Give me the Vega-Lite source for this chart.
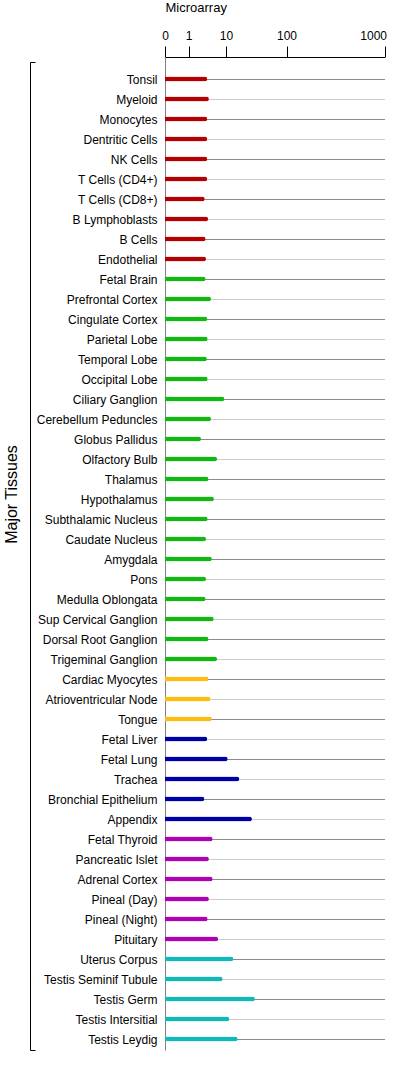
{
  "$schema": "https://vega.github.io/schema/vega-lite/v6.json",
  "width": 220,
  "height": 993,
  "autosize": "none",
  "padding": {"left": 165, "top": 57, "right": 8, "bottom": 30},
  "background": "white",
  "config": {"font": "Liberation Sans", "view": {"stroke": null}},
  "data": {"values": [
    {"tissue": "Tonsil", "group": "A", "value": 5.5},
    {"tissue": "Myeloid", "group": "A", "value": 5.9},
    {"tissue": "Monocytes", "group": "A", "value": 5.5},
    {"tissue": "Dentritic Cells", "group": "A", "value": 5.5},
    {"tissue": "NK Cells", "group": "A", "value": 5.5},
    {"tissue": "T Cells (CD4+)", "group": "A", "value": 5.5},
    {"tissue": "T Cells (CD8+)", "group": "A", "value": 4.9},
    {"tissue": "B Lymphoblasts", "group": "A", "value": 5.7},
    {"tissue": "B Cells", "group": "A", "value": 5.1},
    {"tissue": "Endothelial", "group": "A", "value": 5.2},
    {"tissue": "Fetal Brain", "group": "B", "value": 5.1},
    {"tissue": "Prefrontal Cortex", "group": "B", "value": 6.4},
    {"tissue": "Cingulate Cortex", "group": "B", "value": 5.5},
    {"tissue": "Parietal Lobe", "group": "B", "value": 5.6},
    {"tissue": "Temporal Lobe", "group": "B", "value": 5.4},
    {"tissue": "Occipital Lobe", "group": "B", "value": 5.6},
    {"tissue": "Ciliary Ganglion", "group": "B", "value": 9.6},
    {"tissue": "Cerebellum Peduncles", "group": "B", "value": 6.4},
    {"tissue": "Globus Pallidus", "group": "B", "value": 4.0},
    {"tissue": "Olfactory Bulb", "group": "B", "value": 7.85},
    {"tissue": "Thalamus", "group": "B", "value": 5.8},
    {"tissue": "Hypothalamus", "group": "B", "value": 7.1},
    {"tissue": "Subthalamic Nucleus", "group": "B", "value": 5.6},
    {"tissue": "Caudate Nucleus", "group": "B", "value": 5.2},
    {"tissue": "Amygdala", "group": "B", "value": 6.6},
    {"tissue": "Pons", "group": "B", "value": 5.2},
    {"tissue": "Medulla Oblongata", "group": "B", "value": 5.1},
    {"tissue": "Sup Cervical Ganglion", "group": "B", "value": 7.05},
    {"tissue": "Dorsal Root Ganglion", "group": "B", "value": 5.8},
    {"tissue": "Trigeminal Ganglion", "group": "B", "value": 7.85},
    {"tissue": "Cardiac Myocytes", "group": "C", "value": 5.8},
    {"tissue": "Atrioventricular Node", "group": "C", "value": 6.3},
    {"tissue": "Tongue", "group": "C", "value": 6.6},
    {"tissue": "Fetal Liver", "group": "D", "value": 5.5},
    {"tissue": "Fetal Lung", "group": "D", "value": 12.5},
    {"tissue": "Trachea", "group": "D", "value": 29.8},
    {"tissue": "Bronchial Epithelium", "group": "D", "value": 4.8},
    {"tissue": "Appendix", "group": "D", "value": 48.6},
    {"tissue": "Fetal Thyroid", "group": "E", "value": 6.8},
    {"tissue": "Pancreatic Islet", "group": "E", "value": 5.9},
    {"tissue": "Adrenal Cortex", "group": "E", "value": 6.8},
    {"tissue": "Pineal (Day)", "group": "E", "value": 5.9},
    {"tissue": "Pineal (Night)", "group": "E", "value": 5.6},
    {"tissue": "Pituitary", "group": "E", "value": 8.1},
    {"tissue": "Uterus Corpus", "group": "F", "value": 20.9},
    {"tissue": "Testis Seminif Tubule", "group": "F", "value": 9.2},
    {"tissue": "Testis Germ", "group": "F", "value": 53.1},
    {"tissue": "Testis Intersitial", "group": "F", "value": 14.9},
    {"tissue": "Testis Leydig", "group": "F", "value": 27.3}
  ]},
  "layer": [
    {
      "mark": {"type": "bar", "size": 5, "cornerRadiusEnd": 2.5},
      "encoding": {
        "y": {
          "field": "tissue", "type": "nominal", "sort": null,
          "scale": {"type": "point", "padding": 0.825, "align": 0.667},
          "axis": {
            "orient": "left", "title": null, "domain": true, "domainColor": "#808080", "domainWidth": 1,
            "ticks": false, "labelPadding": 8, "labelFontSize": 12, "labelColor": "black", "labelFont": "Liberation Sans",
            "labelOverlap": false, "labelLimit": 200,
            "grid": true,
            "gridColor": {"condition": {"test": "round(datum.index*48)%2===0", "value": "#8c8c8c"}, "value": "#cccccc"},
            "gridWidth": 1, "gridOpacity": 1
          }
        },
        "x": {
          "field": "value", "type": "quantitative",
          "scale": {"domain": [0, 1, 10, 100, 1000], "range": [0, 23.5, 61, 121.5, 219.5], "nice": false, "zero": false},
          "axis": {
            "orient": "top", "values": [0, 1, 10, 100, 1000], "format": "d",
            "title": "Microarray", "titleAnchor": "start", "titleFontWeight": "normal", "titleFontSize": 13, "titleColor": "black", "titlePadding": 15,
            "tickSize": 11, "tickColor": "black", "domainColor": "black",
            "labelFontSize": 12, "labelColor": "black", "labelPadding": 4, "grid": false, "labelOverlap": false,
            "labelAlign": {"condition": {"test": "datum.value === 1000", "value": "right"}, "value": "center"},
            "labelOffset": {"condition": {"test": "datum.value === 1000", "value": 2}, "value": 0}
          }
        },
        "color": {
          "field": "group", "type": "nominal",
          "scale": {"domain": ["A", "B", "C", "D", "E", "F"], "range": ["#b40000", "#10b910", "#fcbd10", "#0000a8", "#b000b4", "#10b9b9"]},
          "legend": null
        }
      }
    },
    {
      "mark": {"type": "point", "opacity": 0},
      "encoding": {
        "y": {
          "datum": 0.5, "type": "quantitative",
          "scale": {"domain": [0, 1], "range": [993, 5], "nice": false, "zero": false},
          "axis": {
            "orient": "left", "offset": 135, "values": [0, 1], "labels": false,
            "ticks": true, "tickSize": -5, "tickColor": "black", "domainColor": "black", "grid": false,
            "title": "Major Tissues", "titleFontSize": 16, "titleFontWeight": "normal", "titleColor": "black", "titlePadding": 10,
            "titleY": 437
          }
        }
      }
    }
  ],
  "resolve": {"scale": {"y": "independent"}, "axis": {"y": "independent"}}
}
